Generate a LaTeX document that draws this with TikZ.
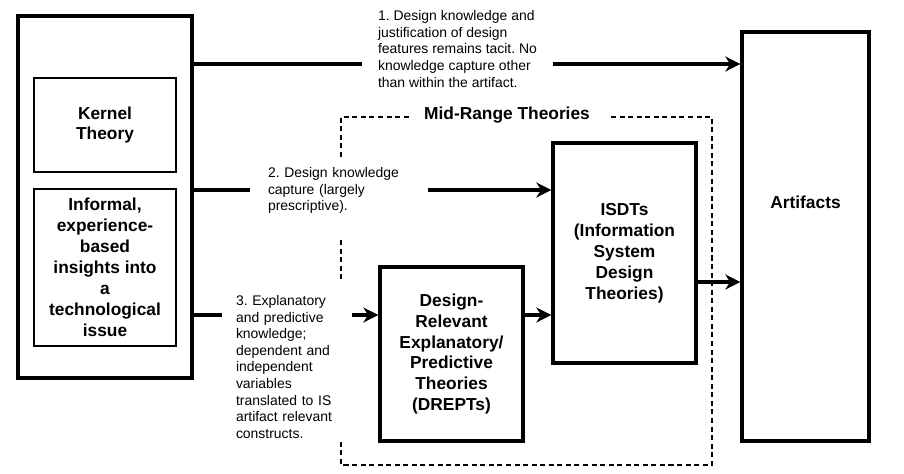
\documentclass[tikz,border=0pt]{standalone}
\usepackage{fontspec}
\setmainfont{Liberation Sans}
\usetikzlibrary{arrows.meta}
\frenchspacing

\begin{document}
\begin{tikzpicture}[x=0.03cm,y=-0.03cm,
  bigbox/.style={draw, line width=2.8pt, inner sep=0pt, align=center, font=\bfseries\fontsize{14.8}{17.9}\selectfont},
  smallbox/.style={bigbox, line width=1.6pt},
  bold/.style={align=center, font=\bfseries\fontsize{14.8}{17.9}\selectfont},
  note/.style={fill=white, align=left, inner ysep=2pt, font=\fontsize{11.9}{14.1}\selectfont},
  flow/.style={line width=2.8pt, -{Stealth[length=0.45cm,width=0.45cm,inset=0.14cm]}},
  frame/.style={line width=1.2pt, dash pattern=on 4.3pt off 3pt}]
\useasboundingbox (0,0) rectangle (904,473);
% boxes
\node[bigbox, minimum width=5.22cm, minimum height=10.86cm] (source) at (105,197) {};
\node[smallbox, minimum width=4.26cm, minimum height=2.82cm] (kernel) at (105,125) {Kernel\\Theory};
\node[smallbox, minimum width=4.26cm, minimum height=4.71cm] (informal) at (105,267.5) {Informal,\\experience-\\based\\insights into\\a\\technological\\issue};
\node[bigbox, minimum width=3.81cm, minimum height=12.27cm] (artifacts) at (805.5,236.5) {};
\node[bold] (artlabel) at (805.5,202) {Artifacts};
\node[bigbox, minimum width=4.29cm, minimum height=6.6cm] (isdt) at (624.5,253) {ISDTs\\(Information\\System\\Design\\Theories)};
\node[bigbox, minimum width=4.29cm, minimum height=5.22cm] (drept) at (451.5,354) {Design-\\Relevant\\Explanatory/\\Predictive\\Theories\\(DREPTs)};
% mid-range frame
\draw[frame] (341,157) -- (341,117) -- (410,117);
\draw[frame] (611,117) -- (712,117) -- (712,465) -- (341,465) -- (341,442);
\draw[frame] (341,240) -- (341,282);
\node[bold] (midrange) at (507,115) {Mid-Range Theories};
% arrows
\draw[flow] (source.east |- 0,64) -- (artifacts.west |- 0,64);
\draw[flow] (source.east |- 0,190) -- (isdt.west |- 0,190);
\draw[flow] (source.east |- 0,315) -- (drept.west |- 0,315);
\draw[flow] (drept.east |- 0,315) -- (isdt.west |- 0,315);
\draw[flow] (isdt.east |- 0,282) -- (artifacts.west |- 0,282);
% labels
\node[note, inner xsep=0.49cm] (note1) at (457.5,49) {1. Design knowledge and\\justification of design\\features remains tacit. No\\knowledge capture other\\than within the artifact.};
\node[note, inner xsep=0.54cm, text width=4.26cm] (note2) at (339,190.5) {2. Design knowledge\\capture (largely\\prescriptive).};
\node[note, inner xsep=0.42cm, text width=3.06cm] (note3) at (287,367) {3. Explanatory\\and predictive\\knowledge;\\dependent and\\independent\\variables\\translated to IS\\artifact relevant\\constructs.};
\end{tikzpicture}
\end{document}
